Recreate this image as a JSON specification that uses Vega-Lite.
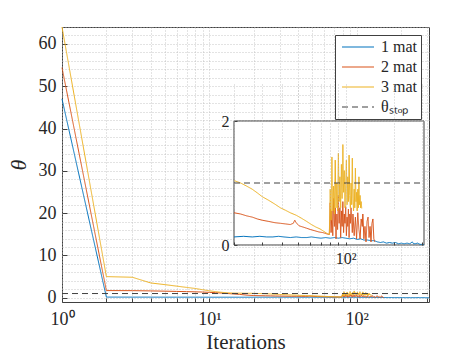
{
  "$schema": "https://vega.github.io/schema/vega-lite/v6.json",
  "width": 367,
  "height": 275,
  "autosize": {"type": "none"},
  "padding": {"left": 62, "top": 27, "right": 45, "bottom": 53},
  "background": "white",
  "config": {
    "view": {"stroke": "#404040", "strokeWidth": 1},
    "font": "Liberation Serif",
    "axis": {"labelFont": "Liberation Serif", "titleFont": "Liberation Serif", "labelColor": "#262626", "titleColor": "#262626", "domain": false, "tickColor": "#404040", "titleFontWeight": "normal"},
    "legend": {"orient": "top-right", "offset": 8, "fillColor": "white", "strokeColor": "#404040", "padding": 4, "rowPadding": 4, "labelFont": "Liberation Serif", "labelFontSize": 16, "labelColor": "#262626", "symbolType": "M-1,0H5.4", "symbolSize": 100, "symbolStrokeWidth": 1.2, "labelOffset": 26}
  },
  "datasets": {
    "d": [
      {"it":1,"v":47,"s":"1 mat"},{"it":2,"v":0.16,"s":"1 mat"},{"it":3,"v":0.15,"s":"1 mat"},{"it":4,"v":0.15,"s":"1 mat"},{"it":5,"v":0.14,"s":"1 mat"},{"it":6,"v":0.14,"s":"1 mat"},{"it":8,"v":0.14,"s":"1 mat"},{"it":10,"v":0.13,"s":"1 mat"},{"it":13,"v":0.13,"s":"1 mat"},{"it":16,"v":0.13,"s":"1 mat"},{"it":20,"v":0.13,"s":"1 mat"},{"it":23,"v":0.14,"s":"1 mat"},{"it":26,"v":0.13,"s":"1 mat"},{"it":29,"v":0.14,"s":"1 mat"},{"it":32,"v":0.13,"s":"1 mat"},{"it":35,"v":0.13,"s":"1 mat"},{"it":38,"v":0.14,"s":"1 mat"},{"it":41,"v":0.13,"s":"1 mat"},{"it":45,"v":0.12,"s":"1 mat"},{"it":49,"v":0.13,"s":"1 mat"},{"it":53,"v":0.12,"s":"1 mat"},{"it":57,"v":0.12,"s":"1 mat"},{"it":61,"v":0.13,"s":"1 mat"},{"it":65,"v":0.12,"s":"1 mat"},{"it":70,"v":0.11,"s":"1 mat"},{"it":75,"v":0.12,"s":"1 mat"},{"it":80,"v":0.11,"s":"1 mat"},{"it":85,"v":0.12,"s":"1 mat"},{"it":90,"v":0.11,"s":"1 mat"},{"it":95,"v":0.12,"s":"1 mat"},{"it":100,"v":0.11,"s":"1 mat"},{"it":106,"v":0.1,"s":"1 mat"},{"it":112,"v":0.11,"s":"1 mat"},{"it":118,"v":0.09,"s":"1 mat"},{"it":124,"v":0.1,"s":"1 mat"},{"it":130,"v":0.08,"s":"1 mat"},{"it":137,"v":0.08,"s":"1 mat"},{"it":144,"v":0.07,"s":"1 mat"},{"it":151,"v":0.07,"s":"1 mat"},{"it":158,"v":0.05,"s":"1 mat"},{"it":165,"v":0.04,"s":"1 mat"},{"it":172,"v":0.05,"s":"1 mat"},{"it":180,"v":0.03,"s":"1 mat"},{"it":188,"v":0.04,"s":"1 mat"},{"it":196,"v":0.03,"s":"1 mat"},{"it":205,"v":0.04,"s":"1 mat"},{"it":214,"v":0.02,"s":"1 mat"},{"it":223,"v":0.03,"s":"1 mat"},{"it":232,"v":0.02,"s":"1 mat"},{"it":242,"v":0.03,"s":"1 mat"},{"it":252,"v":0.02,"s":"1 mat"},{"it":261,"v":0.05,"s":"1 mat"},{"it":266,"v":0.02,"s":"1 mat"},{"it":272,"v":0.02,"s":"1 mat"},{"it":282,"v":0.03,"s":"1 mat"},{"it":292,"v":0.01,"s":"1 mat"},{"it":300,"v":0.01,"s":"1 mat"},{"it":309,"v":0.0,"s":"1 mat"},

      {"it":1,"v":54.4,"s":"2 mat"},{"it":2,"v":1.7,"s":"2 mat"},{"it":3,"v":1.68,"s":"2 mat"},{"it":4,"v":1.62,"s":"2 mat"},{"it":5,"v":1.56,"s":"2 mat"},{"it":6,"v":1.5,"s":"2 mat"},{"it":7,"v":1.45,"s":"2 mat"},{"it":8,"v":1.4,"s":"2 mat"},{"it":9,"v":1.35,"s":"2 mat"},{"it":10,"v":1.28,"s":"2 mat"},{"it":11,"v":1.2,"s":"2 mat"},{"it":12,"v":1.12,"s":"2 mat"},{"it":13,"v":1.03,"s":"2 mat"},{"it":14,"v":0.95,"s":"2 mat"},{"it":16,"v":0.8,"s":"2 mat"},{"it":18,"v":0.62,"s":"2 mat"},{"it":20,"v":0.52,"s":"2 mat"},{"it":22,"v":0.5,"s":"2 mat"},{"it":24,"v":0.47,"s":"2 mat"},{"it":26,"v":0.45,"s":"2 mat"},{"it":28,"v":0.42,"s":"2 mat"},{"it":30,"v":0.4,"s":"2 mat"},{"it":33,"v":0.38,"s":"2 mat"},{"it":36,"v":0.36,"s":"2 mat"},{"it":39,"v":0.35,"s":"2 mat"},{"it":42,"v":0.34,"s":"2 mat"},{"it":45,"v":0.33,"s":"2 mat"},{"it":47,"v":0.35,"s":"2 mat"},{"it":48,"v":0.4,"s":"2 mat"},{"it":49,"v":0.36,"s":"2 mat"},{"it":51,"v":0.31,"s":"2 mat"},{"it":54,"v":0.29,"s":"2 mat"},{"it":57,"v":0.27,"s":"2 mat"},{"it":60,"v":0.25,"s":"2 mat"},{"it":64,"v":0.23,"s":"2 mat"},{"it":68,"v":0.21,"s":"2 mat"},{"it":72,"v":0.2,"s":"2 mat"},{"it":76,"v":0.18,"s":"2 mat"},{"it":79,"v":0.17,"s":"2 mat"},
      {"it":80,"v":0.68,"s":"2 mat"},{"it":81,"v":0.2,"s":"2 mat"},{"it":82,"v":0.55,"s":"2 mat"},{"it":83,"v":0.15,"s":"2 mat"},{"it":84,"v":0.75,"s":"2 mat"},{"it":85,"v":0.3,"s":"2 mat"},{"it":86,"v":0.6,"s":"2 mat"},{"it":87,"v":0.1,"s":"2 mat"},{"it":88,"v":0.5,"s":"2 mat"},{"it":89,"v":0.25,"s":"2 mat"},{"it":90,"v":0.8,"s":"2 mat"},{"it":91,"v":0.35,"s":"2 mat"},{"it":92,"v":0.6,"s":"2 mat"},{"it":93,"v":0.12,"s":"2 mat"},{"it":94,"v":0.55,"s":"2 mat"},{"it":95,"v":0.3,"s":"2 mat"},{"it":96,"v":0.7,"s":"2 mat"},{"it":97,"v":0.2,"s":"2 mat"},{"it":98,"v":0.5,"s":"2 mat"},{"it":99,"v":0.35,"s":"2 mat"},{"it":100,"v":0.62,"s":"2 mat"},{"it":101,"v":0.15,"s":"2 mat"},{"it":102,"v":0.45,"s":"2 mat"},{"it":103,"v":0.3,"s":"2 mat"},{"it":104,"v":0.58,"s":"2 mat"},{"it":105,"v":0.12,"s":"2 mat"},{"it":106,"v":0.5,"s":"2 mat"},{"it":107,"v":0.35,"s":"2 mat"},{"it":108,"v":0.6,"s":"2 mat"},{"it":110,"v":0.2,"s":"2 mat"},{"it":111,"v":0.5,"s":"2 mat"},{"it":113,"v":0.15,"s":"2 mat"},{"it":115,"v":0.45,"s":"2 mat"},{"it":117,"v":0.1,"s":"2 mat"},{"it":119,"v":0.52,"s":"2 mat"},{"it":121,"v":0.25,"s":"2 mat"},{"it":123,"v":0.1,"s":"2 mat"},{"it":125,"v":0.42,"s":"2 mat"},{"it":127,"v":0.3,"s":"2 mat"},{"it":128,"v":0.5,"s":"2 mat"},{"it":130,"v":0.1,"s":"2 mat"},{"it":132,"v":0.3,"s":"2 mat"},{"it":134,"v":0.05,"s":"2 mat"},{"it":136,"v":0.38,"s":"2 mat"},{"it":138,"v":0.45,"s":"2 mat"},{"it":140,"v":0.12,"s":"2 mat"},{"it":142,"v":0.3,"s":"2 mat"},{"it":144,"v":0.05,"s":"2 mat"},{"it":146,"v":0.35,"s":"2 mat"},{"it":148,"v":0.42,"s":"2 mat"},{"it":150,"v":0.1,"s":"2 mat"},{"it":152,"v":0.05,"s":"2 mat"},

      {"it":1,"v":64,"s":"3 mat"},{"it":2,"v":5.0,"s":"3 mat"},{"it":3,"v":4.85,"s":"3 mat"},{"it":4,"v":3.5,"s":"3 mat"},{"it":5,"v":3.1,"s":"3 mat"},{"it":6,"v":2.75,"s":"3 mat"},{"it":7,"v":2.45,"s":"3 mat"},{"it":8,"v":2.2,"s":"3 mat"},{"it":9,"v":1.9,"s":"3 mat"},{"it":10,"v":1.65,"s":"3 mat"},{"it":11,"v":1.45,"s":"3 mat"},{"it":12,"v":1.3,"s":"3 mat"},{"it":13,"v":1.2,"s":"3 mat"},{"it":14,"v":1.12,"s":"3 mat"},{"it":16,"v":1.08,"s":"3 mat"},{"it":18,"v":1.06,"s":"3 mat"},{"it":20,"v":1.04,"s":"3 mat"},{"it":22,"v":1.0,"s":"3 mat"},{"it":24,"v":0.95,"s":"3 mat"},{"it":26,"v":0.9,"s":"3 mat"},{"it":28,"v":0.84,"s":"3 mat"},{"it":30,"v":0.78,"s":"3 mat"},{"it":33,"v":0.72,"s":"3 mat"},{"it":36,"v":0.66,"s":"3 mat"},{"it":39,"v":0.6,"s":"3 mat"},{"it":42,"v":0.56,"s":"3 mat"},{"it":45,"v":0.52,"s":"3 mat"},{"it":49,"v":0.48,"s":"3 mat"},{"it":53,"v":0.43,"s":"3 mat"},{"it":57,"v":0.38,"s":"3 mat"},{"it":61,"v":0.33,"s":"3 mat"},{"it":65,"v":0.29,"s":"3 mat"},{"it":69,"v":0.26,"s":"3 mat"},{"it":73,"v":0.22,"s":"3 mat"},{"it":77,"v":0.18,"s":"3 mat"},{"it":79,"v":0.17,"s":"3 mat"},
      {"it":80,"v":0.9,"s":"3 mat"},{"it":81,"v":0.4,"s":"3 mat"},{"it":82,"v":1.42,"s":"3 mat"},{"it":83,"v":0.55,"s":"3 mat"},{"it":84,"v":0.95,"s":"3 mat"},{"it":85,"v":0.5,"s":"3 mat"},{"it":86,"v":1.37,"s":"3 mat"},{"it":87,"v":0.6,"s":"3 mat"},{"it":88,"v":1.0,"s":"3 mat"},{"it":89,"v":0.55,"s":"3 mat"},{"it":90,"v":1.48,"s":"3 mat"},{"it":91,"v":0.7,"s":"3 mat"},{"it":92,"v":1.1,"s":"3 mat"},{"it":93,"v":0.6,"s":"3 mat"},{"it":94,"v":1.3,"s":"3 mat"},{"it":95,"v":0.75,"s":"3 mat"},{"it":96,"v":1.62,"s":"3 mat"},{"it":97,"v":0.85,"s":"3 mat"},{"it":98,"v":1.2,"s":"3 mat"},{"it":99,"v":0.6,"s":"3 mat"},{"it":100,"v":1.0,"s":"3 mat"},{"it":101,"v":1.37,"s":"3 mat"},{"it":102,"v":0.65,"s":"3 mat"},{"it":103,"v":1.1,"s":"3 mat"},{"it":104,"v":0.7,"s":"3 mat"},{"it":105,"v":1.45,"s":"3 mat"},{"it":106,"v":0.8,"s":"3 mat"},{"it":107,"v":0.6,"s":"3 mat"},{"it":108,"v":1.0,"s":"3 mat"},{"it":109,"v":0.65,"s":"3 mat"},{"it":110,"v":1.4,"s":"3 mat"},{"it":111,"v":0.75,"s":"3 mat"},{"it":112,"v":0.55,"s":"3 mat"},{"it":113,"v":0.9,"s":"3 mat"},{"it":114,"v":0.6,"s":"3 mat"},{"it":115,"v":1.24,"s":"3 mat"},{"it":116,"v":0.7,"s":"3 mat"},{"it":117,"v":0.85,"s":"3 mat"},{"it":118,"v":0.55,"s":"3 mat"},{"it":119,"v":0.9,"s":"3 mat"},{"it":120,"v":0.6,"s":"3 mat"},{"it":121,"v":1.1,"s":"3 mat"},{"it":122,"v":0.65,"s":"3 mat"},{"it":123,"v":0.8,"s":"3 mat"},{"it":124,"v":0.6,"s":"3 mat"},{"it":125,"v":0.7,"s":"3 mat"},{"it":126,"v":0.59,"s":"3 mat"},

      {"it":1,"v":1,"s":"θₛₜₒₚ"},{"it":20,"v":1,"s":"θₛₜₒₚ"},{"it":309,"v":1,"s":"θₛₜₒₚ"}
    ]
  },
  "layer": [
    {
      "data": {"name": "d"},
      "mark": {"type": "line", "strokeWidth": 1},
      "encoding": {
        "x": {
          "field": "it", "type": "quantitative",
          "scale": {"type": "log", "domain": [1, 309], "nice": false},
          "axis": {
            "values": [1,2,3,4,5,6,7,8,9,10,20,30,40,50,60,70,80,90,100,200,300],
            "labelExpr": "datum.value == 1 ? '10⁰' : datum.value == 10 ? '10¹' : datum.value == 100 ? '10²' : ''",
            "grid": true, "gridDash": [1, 2], "gridColor": "#b8b8b8", "gridWidth": 0.8,
            "tickSize": -4, "labelPadding": 12, "labelFontSize": 18, "labelFlush": false, "labelOverlap": false,
            "title": "Iterations", "titleFontSize": 21, "titlePadding": 3, "zindex": 0
          }
        },
        "y": {
          "field": "v", "type": "quantitative",
          "scale": {"domain": [-1, 64], "nice": false, "zero": false},
          "axis": {
            "values": [0,2,4,6,8,10,12,14,16,18,20,22,24,26,28,30,32,34,36,38,40,42,44,46,48,50,52,54,56,58,60,62,64],
            "labelExpr": "datum.value % 10 == 0 ? datum.label : ''",
            "grid": true, "gridDash": [1, 2], "gridColor": "#b8b8b8", "gridWidth": 0.8,
            "tickSize": -5, "tickOpacity": {"condition": {"test": "datum.value % 10 == 0", "value": 1}, "value": 0},
            "labelPadding": 11, "labelFontSize": 18, "labelOverlap": false,
            "title": "θ", "titleFontSize": 22, "titleFontStyle": "italic", "titlePadding": 8, "zindex": 0
          }
        },
        "color": {
          "field": "s", "type": "nominal",
          "scale": {"domain": ["1 mat", "2 mat", "3 mat", "θₛₜₒₚ"], "range": ["#0072BD", "#D95319", "#EDB120", "#404040"]},
          "legend": {"title": null}
        },
        "strokeDash": {
          "field": "s", "type": "nominal",
          "scale": {"domain": ["1 mat", "2 mat", "3 mat", "θₛₜₒₚ"], "range": [[1, 0], [1, 0], [1, 0], [6, 4]]},
          "legend": {"title": null}
        }
      }
    },
    {
      "layer": [
        {
          "data": {"values": [{}]},
          "mark": {"type": "rect", "fill": "white", "stroke": "#404040", "strokeWidth": 1},
          "encoding": {
            "x": {
              "datum": 20, "type": "quantitative",
              "scale": {"type": "log", "domain": [20, 309], "nice": false, "range": [172, 362]},
              "axis": {
                "orient": "bottom", "offset": -57,
                "values": [20,30,40,50,60,70,80,90,100,200,300],
                "labelExpr": "datum.value == 100 ? '10²' : ''",
                "grid": true, "gridDash": [1, 2], "gridColor": "#b8b8b8", "gridWidth": 0.8,
                "tickSize": -3, "labelPadding": 8, "labelFontSize": 16, "labelFlush": false, "labelOverlap": false,
                "title": null, "zindex": 1
              }
            },
            "x2": {"datum": 309},
            "y": {
              "datum": 0, "type": "quantitative",
              "scale": {"domain": [0, 2], "nice": false, "zero": false, "range": [218, 94]},
              "axis": {
                "orient": "left", "offset": -172, "format": "d",
                "values": [0,0.2,0.4,0.6,0.8,1,1.2,1.4,1.6,1.8,2],
                "labelExpr": "(datum.value == 0 || datum.value == 1 || datum.value == 2) ? datum.label : ''",
                "grid": true, "gridDash": [1, 2], "gridColor": "#b8b8b8", "gridWidth": 0.8,
                "tickSize": -3, "tickOpacity": {"condition": {"test": "datum.value == 0 || datum.value == 1 || datum.value == 2", "value": 1}, "value": 0},
                "labelPadding": 8, "labelFontSize": 16, "labelOverlap": false,
                "title": null, "zindex": 1
              }
            },
            "y2": {"datum": 2}
          }
        },
        {
          "data": {"name": "d"},
          "transform": [{"filter": "datum.it >= 20"}],
          "mark": {"type": "line", "strokeWidth": 1},
          "encoding": {
            "x": {"field": "it", "type": "quantitative"},
            "y": {"field": "v", "type": "quantitative"},
            "color": {"field": "s", "type": "nominal", "legend": null},
            "strokeDash": {"field": "s", "type": "nominal", "legend": null}
          }
        }
      ]
    }
  ],
  "resolve": {"scale": {"x": "independent", "y": "independent"}}
}
